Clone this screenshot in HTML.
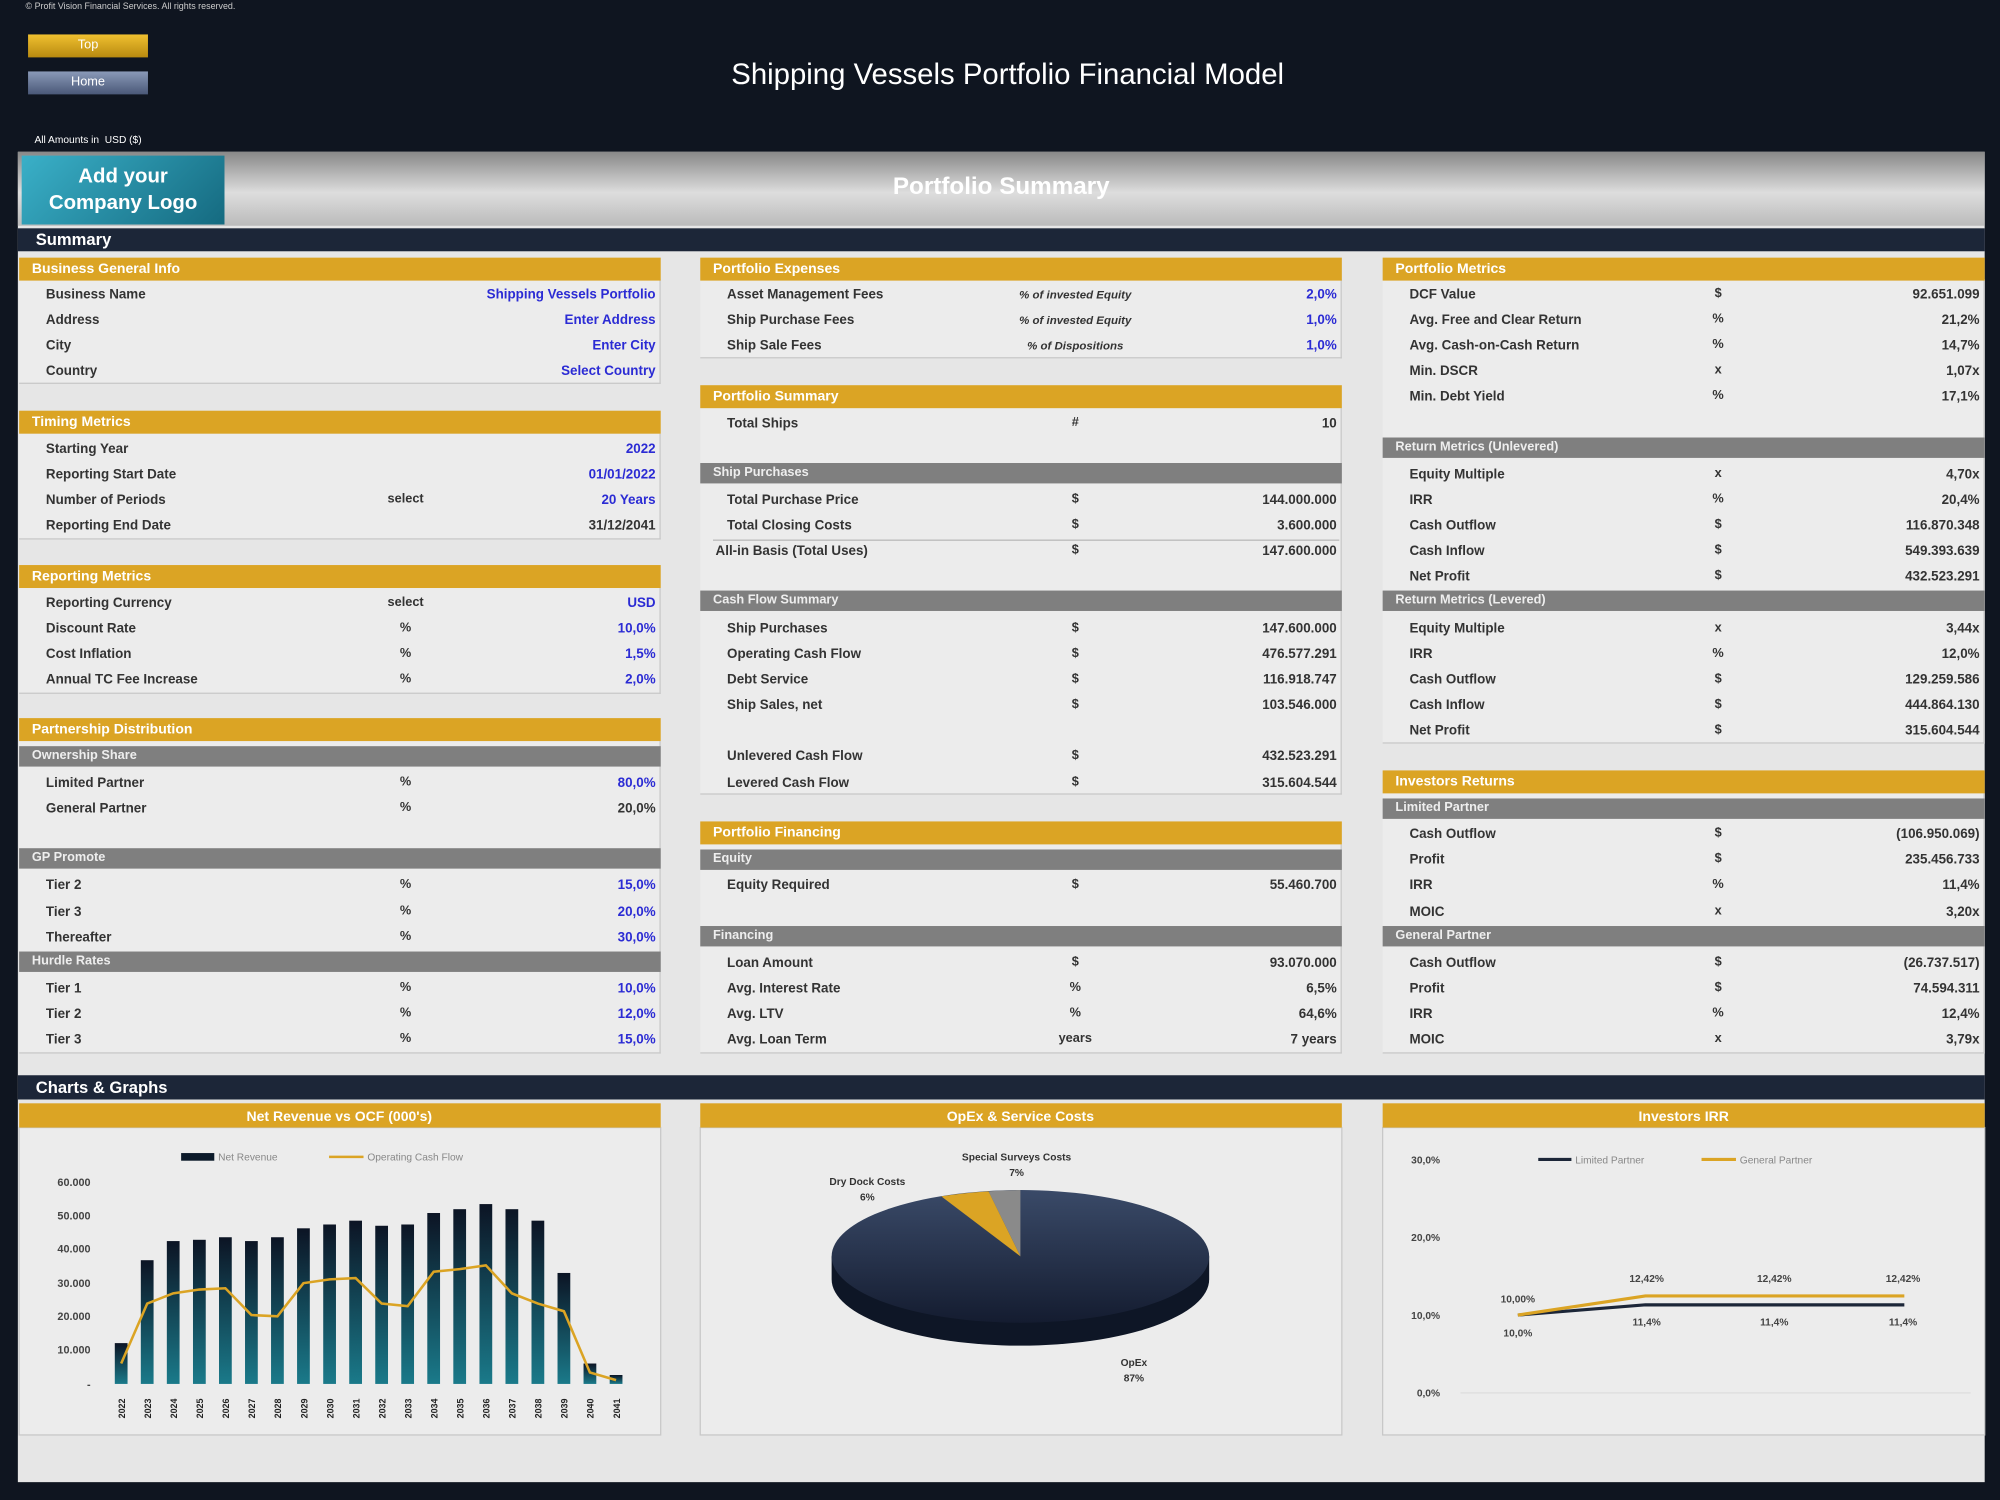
<!DOCTYPE html>
<html><head><meta charset="utf-8"><style>
html,body{margin:0;padding:0;background:#0f1520;width:2000px;height:1500px;overflow:hidden}
#f{position:absolute;left:0;top:0;width:1568px;height:1176px;transform:scale(1.27551);transform-origin:0 0;font-family:"Liberation Sans",sans-serif;background:#0f1520}
.a{position:absolute}
.col{position:absolute;top:0;height:1176px}
.gh{position:absolute;left:0;right:0;height:18px;background:#dba424;color:#fff;font-weight:bold;font-size:11px;line-height:18px;padding-left:10px;box-sizing:border-box}
.sh{position:absolute;left:0;right:0;height:16px;background:#7f7f7f;color:#eee;font-weight:bold;font-size:10px;line-height:16px;padding-left:10px;box-sizing:border-box}
.pn{position:absolute;left:0;right:0;background:#ececec;border-right:1px solid #c8c8c8;border-bottom:1px solid #c8c8c8}
.rw{position:absolute;left:0;right:0;height:20px;line-height:20px;font-size:10.5px;color:#333;font-weight:bold}
.rw .l{position:absolute;left:21px;top:0}
.rw .u{position:absolute;top:0;width:200px;text-align:center;font-size:10px;line-height:20px}
.rw .v{position:absolute;right:4px;top:0}
.b{color:#2b2bd4}
.c1 .u{left:203px}.c2 .u{left:194px}.c3 .u{left:163px}
.i{font-style:italic;font-size:9px!important}
.ln{position:absolute;left:10px;right:2px;height:1px;background:#b8b8b8}
</style></head><body><div id="f">
<div class="a" style="left:20px;top:2px;color:#ccc;font-size:7px">© Profit Vision Financial Services. All rights reserved.</div>
<div class="a" style="left:22px;top:27px;width:94px;height:18px;background:linear-gradient(#f0c030,#b88a10);color:#fff;font-size:10px;text-align:center;line-height:18px">Top</div>
<div class="a" style="left:22px;top:56px;width:94px;height:18px;background:linear-gradient(#8a9ab8,#4a5878);color:#fff;font-size:10px;text-align:center;line-height:18px">Home</div>
<div class="a" style="left:400px;top:45px;width:780px;text-align:center;color:#fff;font-size:23px">Shipping Vessels Portfolio Financial Model</div>
<div class="a" style="left:27px;top:105px;color:#fff;font-size:8px">All Amounts in &nbsp;USD ($)</div>
<div class="a" style="left:14px;top:119px;width:1542px;height:1043px;background:#e6e6e6"></div>
<div class="a" style="left:14px;top:119px;width:1542px;height:58px;background:linear-gradient(#888 0%,#ddd 55%,#bbb 100%)"></div>
<div class="a" style="left:17px;top:122px;width:159px;height:54px;background:linear-gradient(135deg,#3ab0c8,#156a80);color:#fff;font-weight:bold;font-size:16px;text-align:center;line-height:21px;padding-top:6px;box-sizing:border-box">Add your<br>Company Logo</div>
<div class="a" style="left:585px;top:136px;width:400px;text-align:center;color:#fff;font-weight:bold;font-size:19px">Portfolio Summary</div>
<div class="a" style="left:14px;top:179px;width:1542px;height:18px;background:#1c2638;color:#fff;font-weight:bold;font-size:13px;line-height:18px;padding-left:14px;box-sizing:border-box">Summary</div>
<div class="a" style="left:14px;top:843px;width:1542px;height:19px;background:#1c2638;color:#fff;font-weight:bold;font-size:13px;line-height:19px;padding-left:14px;box-sizing:border-box">Charts &amp; Graphs</div>

<!-- col1 -->
<div class="col c1" style="left:15px;width:503px">
<div class="pn" style="top:219px;height:81px"></div>
<div class="gh" style="top:202px">Business General Info</div>
<div class="rw" style="top:221px"><span class="l">Business Name</span><span class="v b">Shipping Vessels Portfolio</span></div>
<div class="rw" style="top:241px"><span class="l">Address</span><span class="v b">Enter Address</span></div>
<div class="rw" style="top:261px"><span class="l">City</span><span class="v b">Enter City</span></div>
<div class="rw" style="top:281px"><span class="l">Country</span><span class="v b">Select Country</span></div>
<div class="pn" style="top:340px;height:82px"></div>
<div class="gh" style="top:322px">Timing Metrics</div>
<div class="rw" style="top:342px"><span class="l">Starting Year</span><span class="v b">2022</span></div>
<div class="rw" style="top:362px"><span class="l">Reporting Start Date</span><span class="v b">01/01/2022</span></div>
<div class="rw" style="top:382px"><span class="l">Number of Periods</span><span class="u">select</span><span class="v b">20 Years</span></div>
<div class="rw" style="top:402px"><span class="l">Reporting End Date</span><span class="v">31/12/2041</span></div>
<div class="pn" style="top:461px;height:82px"></div>
<div class="gh" style="top:443px">Reporting Metrics</div>
<div class="rw" style="top:463px"><span class="l">Reporting Currency</span><span class="u">select</span><span class="v b">USD</span></div>
<div class="rw" style="top:483px"><span class="l">Discount Rate</span><span class="u">%</span><span class="v b">10,0%</span></div>
<div class="rw" style="top:503px"><span class="l">Cost Inflation</span><span class="u">%</span><span class="v b">1,5%</span></div>
<div class="rw" style="top:523px"><span class="l">Annual TC Fee Increase</span><span class="u">%</span><span class="v b">2,0%</span></div>
<div class="pn" style="top:581px;height:244px"></div>
<div class="gh" style="top:563px">Partnership Distribution</div>
<div class="sh" style="top:585px">Ownership Share</div>
<div class="rw" style="top:604px"><span class="l">Limited Partner</span><span class="u">%</span><span class="v b">80,0%</span></div>
<div class="rw" style="top:624px"><span class="l">General Partner</span><span class="u">%</span><span class="v">20,0%</span></div>
<div class="sh" style="top:665px">GP Promote</div>
<div class="rw" style="top:684px"><span class="l">Tier 2</span><span class="u">%</span><span class="v b">15,0%</span></div>
<div class="rw" style="top:705px"><span class="l">Tier 3</span><span class="u">%</span><span class="v b">20,0%</span></div>
<div class="rw" style="top:725px"><span class="l">Thereafter</span><span class="u">%</span><span class="v b">30,0%</span></div>
<div class="sh" style="top:746px">Hurdle Rates</div>
<div class="rw" style="top:765px"><span class="l">Tier 1</span><span class="u">%</span><span class="v b">10,0%</span></div>
<div class="rw" style="top:785px"><span class="l">Tier 2</span><span class="u">%</span><span class="v b">12,0%</span></div>
<div class="rw" style="top:805px"><span class="l">Tier 3</span><span class="u">%</span><span class="v b">15,0%</span></div>
</div>

<!-- col2 -->
<div class="col c2" style="left:549px;width:503px">
<div class="pn" style="top:219px;height:61px"></div>
<div class="gh" style="top:202px">Portfolio Expenses</div>
<div class="rw" style="top:221px"><span class="l">Asset Management Fees</span><span class="u i">% of invested Equity</span><span class="v b">2,0%</span></div>
<div class="rw" style="top:241px"><span class="l">Ship Purchase Fees</span><span class="u i">% of invested Equity</span><span class="v b">1,0%</span></div>
<div class="rw" style="top:261px"><span class="l">Ship Sale Fees</span><span class="u i">% of Dispositions</span><span class="v b">1,0%</span></div>
<div class="pn" style="top:320px;height:302px"></div>
<div class="gh" style="top:302px">Portfolio Summary</div>
<div class="rw" style="top:322px"><span class="l">Total Ships</span><span class="u">#</span><span class="v">10</span></div>
<div class="sh" style="top:363px">Ship Purchases</div>
<div class="rw" style="top:382px"><span class="l">Total Purchase Price</span><span class="u">$</span><span class="v">144.000.000</span></div>
<div class="rw" style="top:402px"><span class="l">Total Closing Costs</span><span class="u">$</span><span class="v">3.600.000</span></div>
<div class="ln" style="top:423px"></div>
<div class="rw" style="top:422px"><span class="l" style="left:12px">All-in Basis (Total Uses)</span><span class="u">$</span><span class="v">147.600.000</span></div>
<div class="sh" style="top:463px">Cash Flow Summary</div>
<div class="rw" style="top:483px"><span class="l">Ship Purchases</span><span class="u">$</span><span class="v">147.600.000</span></div>
<div class="rw" style="top:503px"><span class="l">Operating Cash Flow</span><span class="u">$</span><span class="v">476.577.291</span></div>
<div class="rw" style="top:523px"><span class="l">Debt Service</span><span class="u">$</span><span class="v">116.918.747</span></div>
<div class="rw" style="top:543px"><span class="l">Ship Sales, net</span><span class="u">$</span><span class="v">103.546.000</span></div>
<div class="rw" style="top:583px"><span class="l">Unlevered Cash Flow</span><span class="u">$</span><span class="v">432.523.291</span></div>
<div class="rw" style="top:604px"><span class="l">Levered Cash Flow</span><span class="u">$</span><span class="v">315.604.544</span></div>
<div class="pn" style="top:662px;height:163px"></div>
<div class="gh" style="top:644px">Portfolio Financing</div>
<div class="sh" style="top:666px">Equity</div>
<div class="rw" style="top:684px"><span class="l">Equity Required</span><span class="u">$</span><span class="v">55.460.700</span></div>
<div class="sh" style="top:726px">Financing</div>
<div class="rw" style="top:745px"><span class="l">Loan Amount</span><span class="u">$</span><span class="v">93.070.000</span></div>
<div class="rw" style="top:765px"><span class="l">Avg. Interest Rate</span><span class="u">%</span><span class="v">6,5%</span></div>
<div class="rw" style="top:785px"><span class="l">Avg. LTV</span><span class="u">%</span><span class="v">64,6%</span></div>
<div class="rw" style="top:805px"><span class="l">Avg. Loan Term</span><span class="u">years</span><span class="v">7 years</span></div>
</div>

<!-- col3 -->
<div class="col c3" style="left:1084px;width:472px">
<div class="pn" style="top:219px;height:363px"></div>
<div class="gh" style="top:202px">Portfolio Metrics</div>
<div class="rw" style="top:221px"><span class="l">DCF Value</span><span class="u">$</span><span class="v">92.651.099</span></div>
<div class="rw" style="top:241px"><span class="l">Avg. Free and Clear Return</span><span class="u">%</span><span class="v">21,2%</span></div>
<div class="rw" style="top:261px"><span class="l">Avg. Cash-on-Cash Return</span><span class="u">%</span><span class="v">14,7%</span></div>
<div class="rw" style="top:281px"><span class="l">Min. DSCR</span><span class="u">x</span><span class="v">1,07x</span></div>
<div class="rw" style="top:301px"><span class="l">Min. Debt Yield</span><span class="u">%</span><span class="v">17,1%</span></div>
<div class="sh" style="top:343px">Return Metrics (Unlevered)</div>
<div class="rw" style="top:362px"><span class="l">Equity Multiple</span><span class="u">x</span><span class="v">4,70x</span></div>
<div class="rw" style="top:382px"><span class="l">IRR</span><span class="u">%</span><span class="v">20,4%</span></div>
<div class="rw" style="top:402px"><span class="l">Cash Outflow</span><span class="u">$</span><span class="v">116.870.348</span></div>
<div class="rw" style="top:422px"><span class="l">Cash Inflow</span><span class="u">$</span><span class="v">549.393.639</span></div>
<div class="rw" style="top:442px"><span class="l">Net Profit</span><span class="u">$</span><span class="v">432.523.291</span></div>
<div class="sh" style="top:463px">Return Metrics (Levered)</div>
<div class="rw" style="top:483px"><span class="l">Equity Multiple</span><span class="u">x</span><span class="v">3,44x</span></div>
<div class="rw" style="top:503px"><span class="l">IRR</span><span class="u">%</span><span class="v">12,0%</span></div>
<div class="rw" style="top:523px"><span class="l">Cash Outflow</span><span class="u">$</span><span class="v">129.259.586</span></div>
<div class="rw" style="top:543px"><span class="l">Cash Inflow</span><span class="u">$</span><span class="v">444.864.130</span></div>
<div class="rw" style="top:563px"><span class="l">Net Profit</span><span class="u">$</span><span class="v">315.604.544</span></div>
<div class="pn" style="top:622px;height:203px"></div>
<div class="gh" style="top:604px">Investors Returns</div>
<div class="sh" style="top:626px">Limited Partner</div>
<div class="rw" style="top:644px"><span class="l">Cash Outflow</span><span class="u">$</span><span class="v">(106.950.069)</span></div>
<div class="rw" style="top:664px"><span class="l">Profit</span><span class="u">$</span><span class="v">235.456.733</span></div>
<div class="rw" style="top:684px"><span class="l">IRR</span><span class="u">%</span><span class="v">11,4%</span></div>
<div class="rw" style="top:705px"><span class="l">MOIC</span><span class="u">x</span><span class="v">3,20x</span></div>
<div class="sh" style="top:726px">General Partner</div>
<div class="rw" style="top:745px"><span class="l">Cash Outflow</span><span class="u">$</span><span class="v">(26.737.517)</span></div>
<div class="rw" style="top:765px"><span class="l">Profit</span><span class="u">$</span><span class="v">74.594.311</span></div>
<div class="rw" style="top:785px"><span class="l">IRR</span><span class="u">%</span><span class="v">12,4%</span></div>
<div class="rw" style="top:805px"><span class="l">MOIC</span><span class="u">x</span><span class="v">3,79x</span></div>
</div>

<!-- charts -->
<svg class="a" style="left:0;top:0" width="1568" height="1176" font-family="Liberation Sans, sans-serif">
<defs><linearGradient id="bg" x1="0" y1="0" x2="0" y2="1"><stop offset="0" stop-color="#0c1424"/><stop offset="1" stop-color="#1a7a8a"/></linearGradient>
<linearGradient id="pg" x1="0" y1="0" x2="0" y2="1"><stop offset="0" stop-color="#3a4a68"/><stop offset="1" stop-color="#141c30"/></linearGradient></defs>
<g fill="#ececec" stroke="#c8c8c8"><rect x="15" y="884" width="503" height="241"/><rect x="549" y="884" width="503" height="241"/><rect x="1084" y="884" width="472" height="241"/></g>
<g fill="#dba424"><rect x="15" y="865" width="503" height="19"/><rect x="549" y="865" width="503" height="19"/><rect x="1084" y="865" width="472" height="19"/></g>
<g fill="#fff" font-weight="bold" font-size="11" text-anchor="middle"><text x="266" y="879">Net Revenue vs OCF (000's)</text><text x="800" y="879">OpEx &amp; Service Costs</text><text x="1320" y="879">Investors IRR</text></g>
<!-- chart1 -->
<rect x="142" y="904" width="26" height="6" fill="#0c1a2a"/><text x="171" y="910" font-size="8" fill="#888">Net Revenue</text>
<line x1="258" y1="907" x2="285" y2="907" stroke="#dba424" stroke-width="2"/><text x="288" y="910" font-size="8" fill="#888">Operating Cash Flow</text>
<g font-size="8.5" fill="#444" font-weight="bold" text-anchor="end"><text x="71" y="930">60.000</text><text x="71" y="956">50.000</text><text x="71" y="982">40.000</text><text x="71" y="1009">30.000</text><text x="71" y="1035">20.000</text><text x="71" y="1061">10.000</text><text x="71" y="1088">-</text></g>
<g fill="url(#bg)">
<rect x="90" y="1053" width="10" height="32"/><rect x="110.4" y="988" width="10" height="97"/><rect x="130.8" y="973" width="10" height="112"/><rect x="151.3" y="972" width="10" height="113"/><rect x="171.7" y="970" width="10" height="115"/><rect x="192.1" y="973" width="10" height="112"/><rect x="212.5" y="970" width="10" height="115"/><rect x="232.9" y="963" width="10" height="122"/><rect x="253.4" y="960" width="10" height="125"/><rect x="273.8" y="957" width="10" height="128"/><rect x="294.2" y="961" width="10" height="124"/><rect x="314.6" y="960" width="10" height="125"/><rect x="335" y="951" width="10" height="134"/><rect x="355.4" y="948" width="10" height="137"/><rect x="375.9" y="944" width="10" height="141"/><rect x="396.3" y="948" width="10" height="137"/><rect x="416.7" y="957" width="10" height="128"/><rect x="437.1" y="998" width="10" height="87"/><rect x="457.5" y="1069" width="10" height="16"/><rect x="478" y="1078" width="10" height="7"/>
</g>
<polyline fill="none" stroke="#dba424" stroke-width="2" points="95,1069 115.4,1022 135.8,1014 156.3,1011 176.7,1010 197.1,1031 217.5,1032 237.9,1006 258.4,1003 278.8,1002 299.2,1022 319.6,1024 340,997 360.4,995 380.9,992 401.3,1014 421.7,1022 442.1,1028 462.5,1076 483,1082"/>
<g font-size="7" fill="#222" font-weight="bold">
<text transform="translate(98,1112) rotate(-90)">2022</text><text transform="translate(118.4,1112) rotate(-90)">2023</text><text transform="translate(138.8,1112) rotate(-90)">2024</text><text transform="translate(159.3,1112) rotate(-90)">2025</text><text transform="translate(179.7,1112) rotate(-90)">2026</text><text transform="translate(200.1,1112) rotate(-90)">2027</text><text transform="translate(220.5,1112) rotate(-90)">2028</text><text transform="translate(240.9,1112) rotate(-90)">2029</text><text transform="translate(261.4,1112) rotate(-90)">2030</text><text transform="translate(281.8,1112) rotate(-90)">2031</text><text transform="translate(302.2,1112) rotate(-90)">2032</text><text transform="translate(322.6,1112) rotate(-90)">2033</text><text transform="translate(343,1112) rotate(-90)">2034</text><text transform="translate(363.4,1112) rotate(-90)">2035</text><text transform="translate(383.9,1112) rotate(-90)">2036</text><text transform="translate(404.3,1112) rotate(-90)">2037</text><text transform="translate(424.7,1112) rotate(-90)">2038</text><text transform="translate(445.1,1112) rotate(-90)">2039</text><text transform="translate(465.5,1112) rotate(-90)">2040</text><text transform="translate(486,1112) rotate(-90)">2041</text>
</g>
<!-- pie -->
<path d="M652,985 L652,1003 A148,52 0 0 0 948,1003 L948,985 Z" fill="#0e1626"/>
<ellipse cx="800" cy="985" rx="148" ry="52" fill="url(#pg)"/>
<path d="M800,985 L800,933 A148,52 0 0 0 775,934 Z" fill="#8a8a8a"/>
<path d="M800,985 L775,934 A148,52 0 0 0 738,938 Z" fill="#dba424"/>
<g font-size="8" fill="#333" font-weight="bold" text-anchor="middle"><text x="797" y="910">Special Surveys Costs</text><text x="797" y="922">7%</text><text x="680" y="929">Dry Dock Costs</text><text x="680" y="941">6%</text><text x="889" y="1071">OpEx</text><text x="889" y="1083">87%</text></g>
<!-- chart3 -->
<line x1="1206" y1="909" x2="1232" y2="909" stroke="#1c2638" stroke-width="2.5"/><text x="1235" y="912" font-size="8" fill="#888">Limited Partner</text>
<line x1="1334" y1="909" x2="1361" y2="909" stroke="#dba424" stroke-width="2.5"/><text x="1364" y="912" font-size="8" fill="#888">General Partner</text>
<g font-size="8" fill="#444" font-weight="bold" text-anchor="end"><text x="1129" y="912">30,0%</text><text x="1129" y="973">20,0%</text><text x="1129" y="1034">10,0%</text><text x="1129" y="1095">0,0%</text></g>
<line x1="1145" y1="1092" x2="1545" y2="1092" stroke="#ddd"/>
<polyline fill="none" stroke="#1c2638" stroke-width="2.5" points="1190,1031 1290,1023 1390,1023 1493,1023"/>
<polyline fill="none" stroke="#dba424" stroke-width="2.5" points="1190,1031 1290,1016 1390,1016 1493,1016"/>
<g font-size="8" fill="#444" font-weight="bold" text-anchor="middle"><text x="1190" y="1021">10,00%</text><text x="1190" y="1048">10,0%</text><text x="1291" y="1005">12,42%</text><text x="1391" y="1005">12,42%</text><text x="1492" y="1005">12,42%</text><text x="1291" y="1039">11,4%</text><text x="1391" y="1039">11,4%</text><text x="1492" y="1039">11,4%</text></g>
</svg>
</div></body></html>
